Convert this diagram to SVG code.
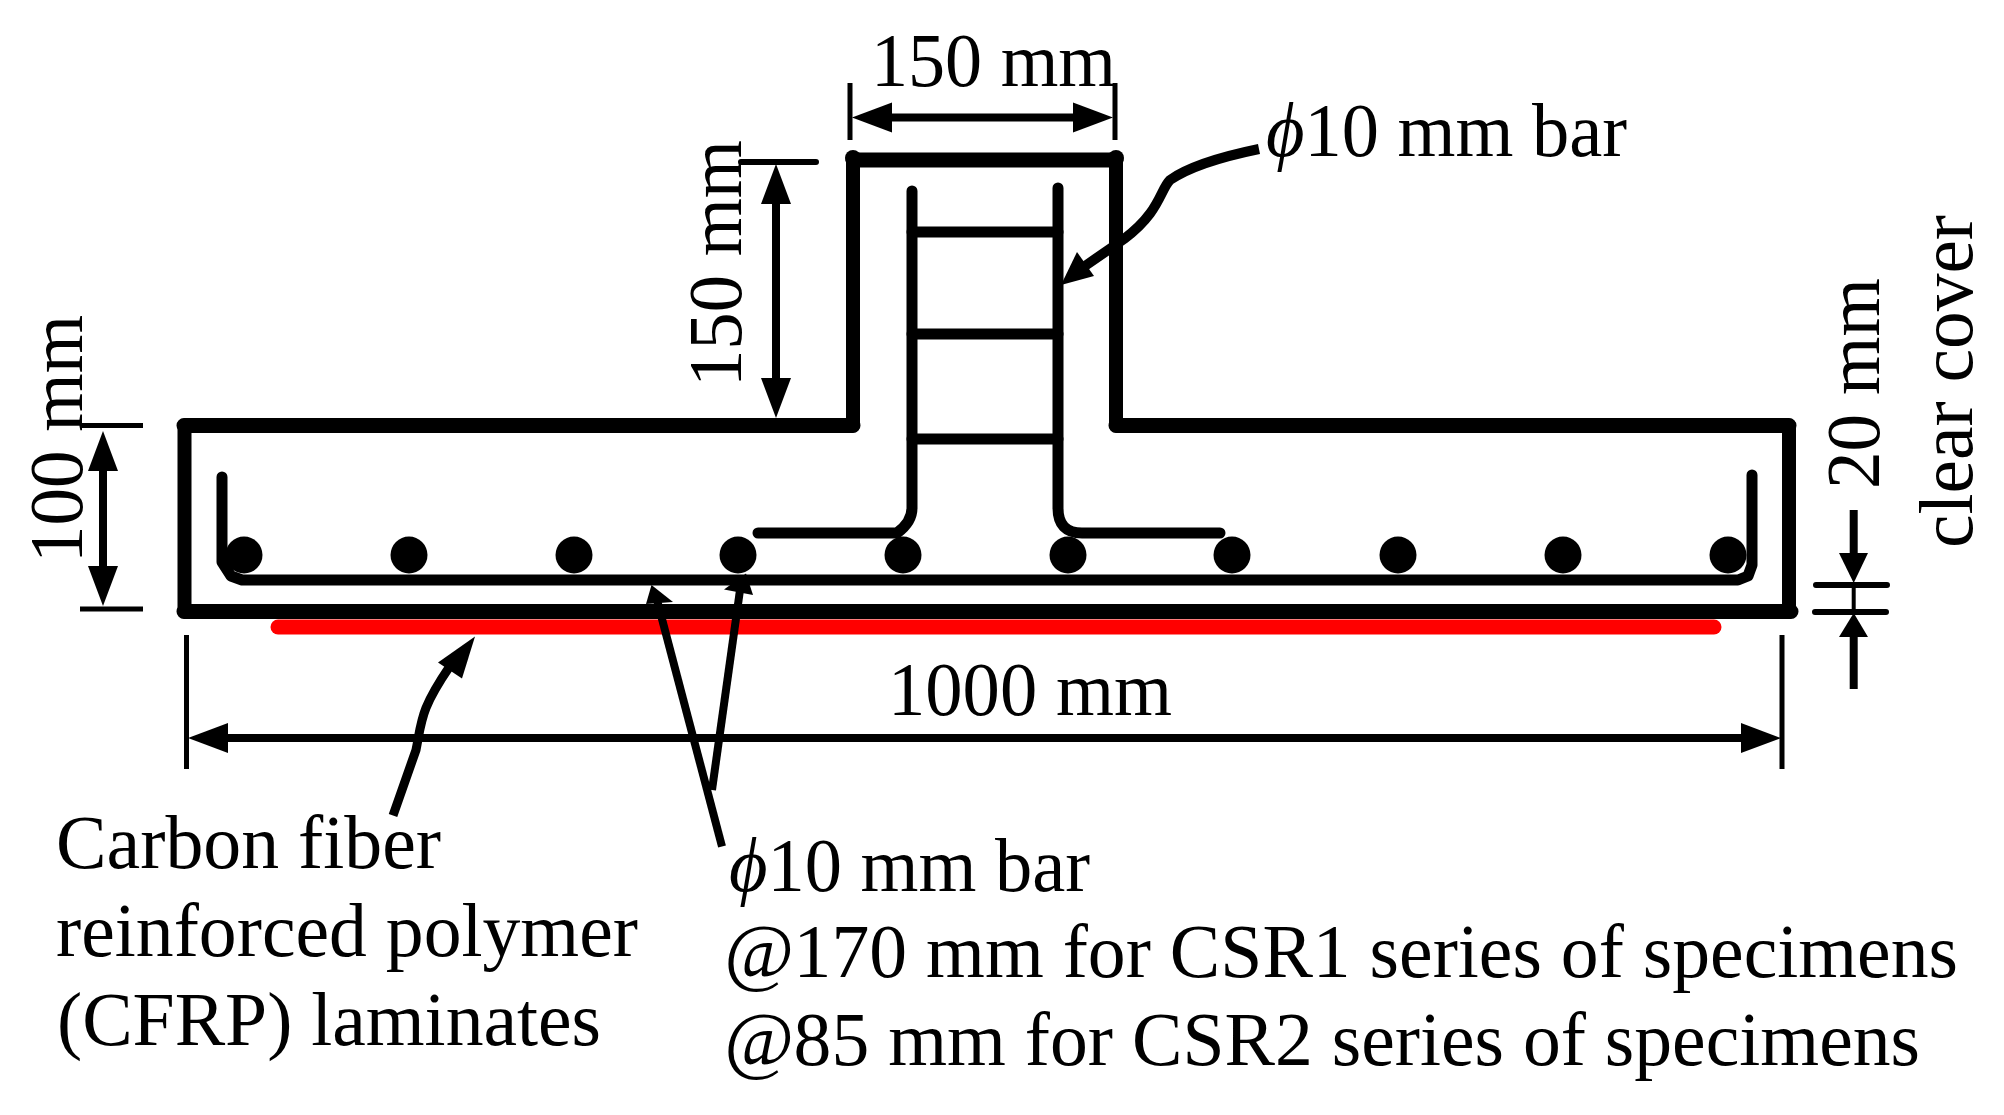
<svg xmlns="http://www.w3.org/2000/svg" width="2004" height="1115" viewBox="0 0 2004 1115">
<style>
text{font-family:"Liberation Serif","Times New Roman",serif;font-size:77px;fill:#000}
.i{font-style:italic}
.h{stroke:#000;stroke-width:15;stroke-linecap:round}
.v{stroke:#000;stroke-width:14;stroke-linecap:round}
.rebar{fill:none;stroke:#000;stroke-width:11;stroke-linecap:round;stroke-linejoin:round}
.tick{stroke:#000;stroke-width:5;fill:none}
.tick2{stroke:#000;stroke-width:6;fill:none;stroke-linecap:round}
.dim{stroke:#000;stroke-width:8;fill:none;marker-start:url(#ah);marker-end:url(#ah)}
.lead{stroke:#000;stroke-width:8;fill:none}
</style>
<defs>
<marker id="ah" markerUnits="userSpaceOnUse" markerWidth="42" markerHeight="32" refX="10" refY="16" orient="auto-start-reverse"><path d="M0,1L40,16L0,31z" fill="#000"/></marker>
</defs>
<rect width="2004" height="1115" fill="#fff"/>
<g id="cfrp-laminate"><line x1="278" y1="627" x2="1714" y2="627" stroke="#f00" stroke-width="15" stroke-linecap="round"/></g>
<g id="section-outline">
<path class="h" d="M184,425.500H853M1116,425.500H1789M853,160H1116M184,611.500H1791"/>
<path class="v" d="M184.500,425.500V611.500M1789,425.500V611.500M853,160V425.500M1116,160V425.500"/>
<circle cx="853" cy="158" r="8"/><circle cx="1116" cy="158" r="8"/>
</g>
<g id="reinforcement">
<path class="rebar" d="M912,191V508Q912,522 897,533H758M1058,188V508Q1058,533 1082,533H1220"/>
<path class="rebar" d="M912,232H1058M912,334H1058M912,439H1058"/>
<path class="rebar" d="M222,477V562L231,576L242,580H1738L1748,576L1752,565V475"/>
<g id="longitudinal-bars">
<circle cx="244" cy="555" r="18.500"/><circle cx="409" cy="555" r="18.500"/><circle cx="574" cy="555" r="18.500"/><circle cx="738" cy="555" r="18.500"/><circle cx="903" cy="555" r="18.500"/><circle cx="1068" cy="555" r="18.500"/><circle cx="1232" cy="555" r="18.500"/><circle cx="1398" cy="555" r="18.500"/><circle cx="1563" cy="555" r="18.500"/><circle cx="1728" cy="555" r="18.500"/>
</g>
</g>
<g id="connectors">
<path class="tick" d="M850,83V140M1115,83V140M80,425.500H143M80,609H143M186.500,635V769M1782,635V769"/>
<path class="tick2" d="M741,162H816M1816,585H1887M1815,612H1886"/>
<line class="lead" x1="1853.700" y1="585" x2="1853.700" y2="612" style="stroke-width:4"/>
<line class="dim" x1="882" y1="117.500" x2="1083" y2="117.500"/>
<line class="dim" x1="776" y1="194" x2="776" y2="388"/>
<line class="dim" x1="103" y1="461" x2="103" y2="576"/>
<line class="dim" x1="218" y1="738" x2="1751" y2="738"/>
<line class="lead" x1="1853.700" y1="510" x2="1853.700" y2="556"/>
<polygon points="1839,553 1868,553 1853.700,583"/>
<line class="lead" x1="1853.700" y1="689" x2="1853.700" y2="634"/>
<polygon points="1839,637 1868,637 1853.700,613"/>
<path class="lead" d="M1259,149C1225,156 1190,166 1170,180C1160,190 1160,212 1124,239L1085,266" style="stroke-width:10"/>
<polygon points="1061,285 1077,252 1094,276"/>
<path class="lead" d="M393,815.500L416,750C422,720 420,710 450,666" style="stroke-width:9"/>
<polygon points="475,636.500 438,662.500 462,678.500"/>
<line class="lead" x1="722" y1="846.500" x2="657" y2="600"/>
<polygon points="651.500,585 646,604 673,602"/>
<line class="lead" x1="712" y1="790" x2="740" y2="590"/>
<polygon points="746,573.500 724,589.500 753,595"/>
</g>
<g id="labels">
<text x="871" y="86" textLength="245" lengthAdjust="spacingAndGlyphs">150 mm</text>
<text x="1266" y="155.500" textLength="361" lengthAdjust="spacingAndGlyphs"><tspan class="i">ϕ</tspan>10 mm bar</text>
<text transform="translate(741,387) rotate(-90)" textLength="247" lengthAdjust="spacingAndGlyphs">150 mm</text>
<text transform="translate(82,563) rotate(-90)" textLength="248" lengthAdjust="spacingAndGlyphs">100 mm</text>
<text transform="translate(1879,489) rotate(-90)" textLength="211" lengthAdjust="spacingAndGlyphs">20 mm</text>
<text transform="translate(1972,548) rotate(-90)" textLength="333" lengthAdjust="spacingAndGlyphs">clear cover</text>
<text x="888" y="715" textLength="284" lengthAdjust="spacingAndGlyphs">1000 mm</text>
<text x="56" y="868" textLength="385" lengthAdjust="spacingAndGlyphs">Carbon fiber</text>
<text x="56" y="956" textLength="582" lengthAdjust="spacingAndGlyphs">reinforced polymer</text>
<text x="57" y="1045" textLength="544" lengthAdjust="spacingAndGlyphs">(CFRP) laminates</text>
<text x="729" y="891" textLength="361" lengthAdjust="spacingAndGlyphs"><tspan class="i">ϕ</tspan>10 mm bar</text>
<text x="724" y="977" textLength="1234" lengthAdjust="spacingAndGlyphs"><tspan class="i">@</tspan>170 mm for CSR1 series of specimens</text>
<text x="724" y="1065" textLength="1196" lengthAdjust="spacingAndGlyphs"><tspan class="i">@</tspan>85 mm for CSR2 series of specimens</text>
</g>
</svg>
